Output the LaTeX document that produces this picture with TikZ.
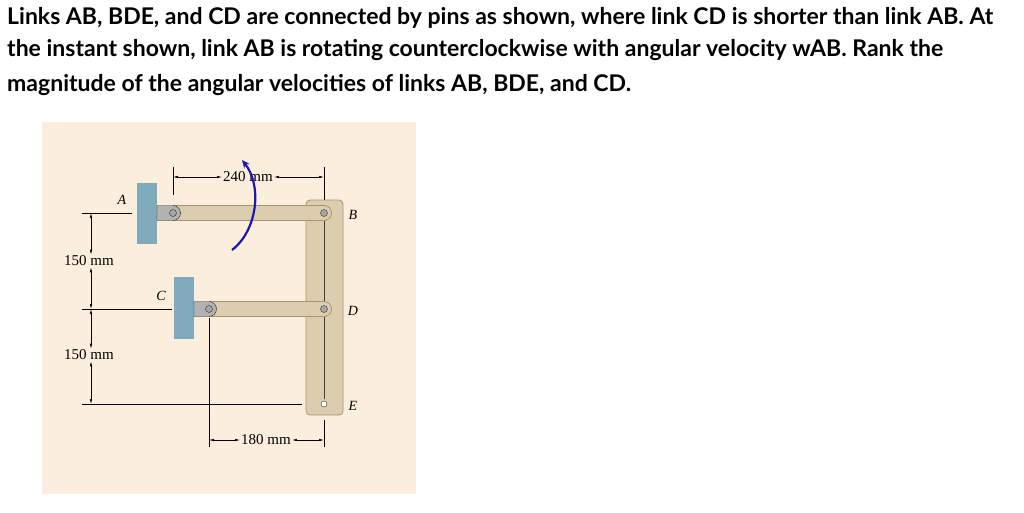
\documentclass[tikz,border=0pt]{standalone}
\usepackage{fontspec}
\setmainfont{Lato}
\newfontfamily\serifnum{Liberation Serif}
\usetikzlibrary{arrows.meta}
\definecolor{bg}{HTML}{FBEEDD}
\definecolor{bar}{HTML}{DCCDAE}
\definecolor{barE}{HTML}{A89472}
\definecolor{wall}{HTML}{7FAABB}
\definecolor{arr}{HTML}{1A1AB0}
\tikzset{
 titletext/.style={anchor=west,font=\bfseries\fontsize{23}{27}\selectfont,inner sep=0},
 lbl/.style={font=\serifnum\itshape\fontsize{14}{15}\selectfont,inner sep=1pt},
 dimtext/.style={font=\serifnum\fontsize{15}{16}\selectfont,fill=bg,inner sep=1pt},
 thin/.style={line width=0.6pt},
 dim/.style={line width=0.6pt,{Latex[length=5pt,width=2.5pt]}-{Latex[length=5pt,width=2.5pt]}},
 barstyle/.style={fill=bar,draw=barE,line width=0.8pt},
 wallstyle/.style={fill=wall,draw=none},
 pin/.style={circle,fill=gray!70,draw=gray!40!black,inner sep=0,minimum size=7pt},
}
\begin{document}
\begin{tikzpicture}[x=1pt,y=-1pt]
\useasboundingbox (0,0) rectangle (1024,512);
\fill[white] (0,0) rectangle (1024,512);
\node[titletext] (t1) at (7,18) {Links AB, BDE, and CD are connected by pins as shown, where link CD is shorter than link AB. At};
\node[titletext] (t2) at (7,50) {the instant shown, link AB is rotating counterclockwise with angular velocity wAB. Rank the};
\node[titletext] (t3) at (7,85) {magnitude of the angular velocities of links AB, BDE, and CD.};
\fill[bg] (42,122) rectangle (416,494);
% coordinates
\coordinate (A) at (173,213);
\coordinate (B) at (324,213);
\coordinate (C) at (209,309);
\coordinate (D) at (324,309);
\coordinate (E) at (324,404);
% dimension reference lines
\draw[thin] (82,213) -- (132,213);
\draw[thin] (82,309) -- (172,309);
\draw[thin] (82,404) -- (302,404);
\draw[thin] (209,318) -- (209,447);
\draw[thin] (324,420) -- (324,447);
\draw[thin] (173,167) -- (173,195);
\draw[thin] (324,167) -- (324,205);
% BDE link
\draw[barstyle,rounded corners=4pt] (306,200) rectangle (343,415);
\draw[thin,gray!50!black] (324,218) -- (324,304) (324,314) -- (324,399);
% AB and CD links
\draw[barstyle] (173,205.5) -- (324,205.5) arc(-90:90:7.5) -- (173,220.5);
\draw[barstyle] (209,301.5) -- (324,301.5) arc(-90:90:7.5) -- (209,316.5);
% walls and brackets
\fill[wallstyle] (137,183) rectangle (157,244);
\fill[wallstyle] (174,277) rectangle (194,339);
\fill[gray!60,draw=gray!30!black] (157,205.5) -- (173,205.5) arc(-90:90:7.5) -- (157,220.5) -- cycle;
\fill[gray!60,draw=gray!30!black] (194,301.5) -- (209,301.5) arc(-90:90:7.5) -- (194,316.5) -- cycle;
\node[pin] (pA) at (A) {};
\node[pin] (pB) at (B) {};
\node[pin] (pC) at (C) {};
\node[pin] (pD) at (D) {};
\node[circle,fill=white,draw=gray!40!black,inner sep=0,minimum size=6pt] (pE) at (E) {};
% labels
\node[lbl] (lA) at (122,200) {A};
\node[lbl] (lB) at (353,215) {B};
\node[lbl] (lC) at (161,296) {C};
\node[lbl] (lD) at (353,311) {D};
\node[lbl] (lE) at (353,406) {E};
% dimensions
\node[dimtext] (d240) at (248,177) {240 mm};
\draw[dim] (173,177) -- (d240.west);
\draw[dim] (324,177) -- (d240.east);
\node[dimtext] (d180) at (266,440) {180 mm};
\draw[dim] (209,440) -- (d180.west);
\draw[dim] (324,440) -- (d180.east);
\node[dimtext] (d1) at (89,261) {150 mm};
\node[dimtext] (d2) at (89,355) {150 mm};
\draw[dim] (91,213) -- (d1.north -| 91,0);
\draw[dim] (91,309) -- (d1.south -| 91,0);
\draw[dim] (91,309) -- (d2.north -| 91,0);
\draw[dim] (91,404) -- (d2.south -| 91,0);
% angular velocity arrow
\coordinate (w0) at (232,250);
\coordinate (w1) at (242,160);
\draw[arr,line width=2.2pt,-{Stealth[length=8pt,width=7pt]}] (w0) .. controls (258,230) and (262,185) .. (w1);
\end{tikzpicture}
\end{document}
